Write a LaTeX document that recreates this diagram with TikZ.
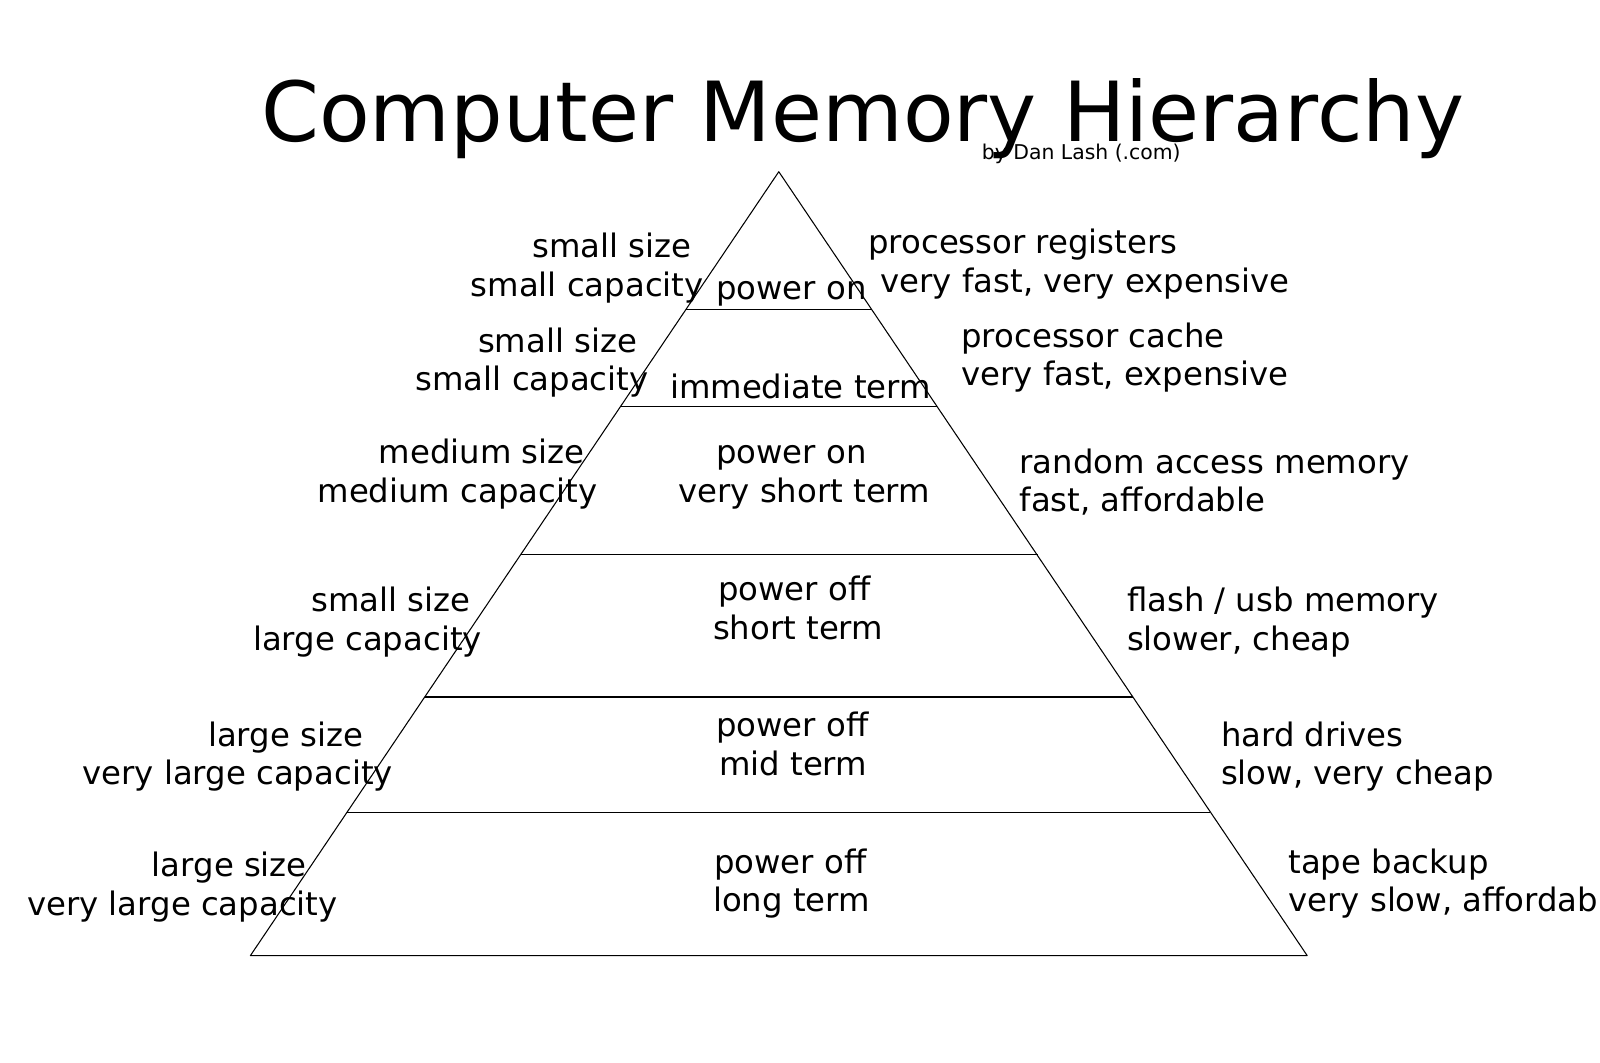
\documentclass[tikz,border=0pt]{standalone}
\usepackage{fontspec}
\setmainfont{DejaVu Sans}
\begin{document}
\begin{tikzpicture}[x=0.01022cm,y=-0.01022cm,line join=round,
  lbl/.style={anchor=base west,inner sep=0pt,font=\fontsize{9.2}{11}\selectfont},
  tier/.style={line width=.3pt}]
\useasboundingbox (0,0) rectangle (1565.5,1040);
\clip (0,0) rectangle (1565.5,1040);
% pyramid
\coordinate (apex) at (762,168);
\coordinate (bl) at (245,935);
\coordinate (br) at (1279,935);
\draw[tier] (apex)--(bl)--(br)--cycle;
\draw[tier] (671,303)--(853,303);
\draw[tier] (607,398)--(917,398);
\draw[tier] (510,543)--(1016,543);
\draw[tier] (416,682)--(1109,682);
\draw[tier] (340,795)--(1184,795);
% title
\node[lbl,font=\fontsize{23.6}{26}\selectfont] (title) at (255,138) {Computer Memory Hierarchy};
\node[lbl,font=\fontsize{5.8}{7}\selectfont] (byline) at (960,156) {by Dan Lash (.com)};
% left side
\node[lbl] (la1) at (520,252) {small size};
\node[lbl] (la2) at (460,290) {small capacity};
\node[lbl] (lb1) at (467,345) {small size};
\node[lbl] (lb2) at (406,382) {small capacity};
\node[lbl] (lc1) at (370,454) {medium size};
\node[lbl] (lc2) at (310,492) {medium capacity};
\node[lbl] (ld1) at (304,598) {small size};
\node[lbl] (ld2) at (247,636) {large capacity};
\node[lbl] (le1) at (203,730) {large size};
\node[lbl] (le2) at (80,768) {very large capacity};
\node[lbl] (lf1) at (148,858) {large size};
\node[lbl] (lf2) at (26,896) {very large capacity};
% middle
\node[lbl] (ma1) at (700,293) {power on};
\node[lbl] (mb1) at (655,390) {immediate term};
\node[lbl] (mc1) at (700,454) {power on};
\node[lbl] (mc2) at (663,492) {very short term};
\node[lbl] (md1) at (702,588) {power off};
\node[lbl] (md2) at (697,626) {short term};
\node[lbl] (me1) at (700,721) {power off};
\node[lbl] (me2) at (703,759) {mid term};
\node[lbl] (mf1) at (698,855) {power off};
\node[lbl] (mf2) at (697,892) {long term};
% right side
\node[lbl] (ra1) at (849,248) {processor registers};
\node[lbl] (ra2) at (861,286) {very fast, very expensive};
\node[lbl] (rb1) at (940,340) {processor cache};
\node[lbl] (rb2) at (940,377) {very fast, expensive};
\node[lbl] (rc1) at (997,463) {random access memory};
\node[lbl] (rc2) at (997,500) {fast, affordable};
\node[lbl] (rd1) at (1102,598) {flash / usb memory};
\node[lbl] (rd2) at (1102,636) {slower, cheap};
\node[lbl] (re1) at (1194,730) {hard drives};
\node[lbl] (re2) at (1194,768) {slow, very cheap};
\node[lbl] (rf1) at (1260,855) {tape backup};
\node[lbl] (rf2) at (1260,892) {very slow, affordable};
\end{tikzpicture}
\end{document}
